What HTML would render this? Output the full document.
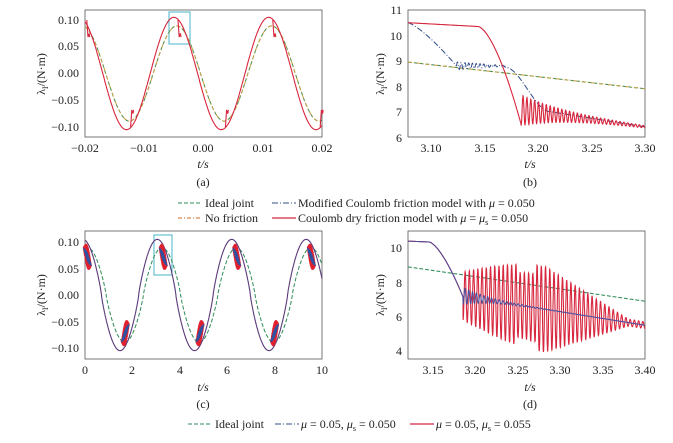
<!DOCTYPE html>
<html><head><meta charset="utf-8"><style>
body{margin:0;background:#fff;}
text{font-family:"Liberation Serif","DejaVu Serif",serif;fill:#222;}
</style></head><body>
<svg id="s" width="673" height="438" viewBox="0 0 673 438" xmlns="http://www.w3.org/2000/svg" font-family="Liberation Serif, serif">
<g font-size="12" style="font-family:'Liberation Serif',serif">
<!-- panel a -->
<rect x="85" y="10" width="237" height="127" fill="none" stroke="#555" stroke-width="0.8"/>
<text x="79" y="24" text-anchor="end">0.10</text><text x="79" y="50" text-anchor="end">0.05</text><text x="79" y="77" text-anchor="end">0.00</text><text x="79" y="104" text-anchor="end">−0.05</text><text x="79" y="131" text-anchor="end">−0.10</text>
<text x="85" y="152" text-anchor="middle">−0.02</text><text x="144" y="152" text-anchor="middle">−0.01</text><text x="203" y="152" text-anchor="middle">0.00</text><text x="263" y="152" text-anchor="middle">0.01</text><text x="322" y="152" text-anchor="middle">0.02</text>
<text x="203" y="168" text-anchor="middle" font-style="italic">t/s</text><text x="203" y="186" text-anchor="middle">(a)</text>
<text transform="translate(45,74) rotate(-90)" text-anchor="middle">λ<tspan font-size="8" dy="3">I</tspan><tspan dy="-3">/(N·m)</tspan></text>
<rect x="169" y="12" width="21" height="32" fill="none" stroke="#4ab5c8" stroke-width="1"/>
<!-- panel b -->
<rect x="408" y="10" width="237" height="127" fill="none" stroke="#555" stroke-width="0.8"/>
<text x="402" y="14" text-anchor="end">11</text><text x="402" y="40" text-anchor="end">10</text><text x="402" y="65" text-anchor="end">9</text><text x="402" y="91" text-anchor="end">8</text><text x="402" y="116" text-anchor="end">7</text><text x="402" y="142" text-anchor="end">6</text>
<text x="431" y="152" text-anchor="middle">3.10</text><text x="485" y="152" text-anchor="middle">3.15</text><text x="538" y="152" text-anchor="middle">3.20</text><text x="592" y="152" text-anchor="middle">3.25</text><text x="645" y="152" text-anchor="middle">3.30</text>
<text x="530" y="168" text-anchor="middle" font-style="italic">t/s</text><text x="530" y="186" text-anchor="middle">(b)</text>
<text transform="translate(384,74) rotate(-90)" text-anchor="middle">λ<tspan font-size="8" dy="3">I</tspan><tspan dy="-3">/(N·m)</tspan></text>
<!-- legend 1 -->
<line x1="178" y1="203" x2="202" y2="203" stroke="#2e8b57" stroke-dasharray="4,2"/><text x="205" y="207">Ideal joint</text>
<line x1="272" y1="203" x2="296" y2="203" stroke="#334d8a" stroke-dasharray="6,2,1,2"/><text x="298" y="207">Modified Coulomb friction model with <tspan font-style="italic">μ</tspan> = 0.050</text>
<line x1="178" y1="218" x2="202" y2="218" stroke="#d2691e" stroke-dasharray="4,2,1,2"/><text x="205" y="222">No friction</text>
<line x1="272" y1="218" x2="296" y2="218" stroke="#d7263d" stroke-width="1.2"/><text x="298" y="222">Coulomb dry friction model with <tspan font-style="italic">μ</tspan> = <tspan font-style="italic">μ</tspan><tspan font-size="8" dy="3">s</tspan><tspan dy="-3"> = 0.050</tspan></text>
<!-- panel c -->
<rect x="85" y="231" width="237" height="128" fill="none" stroke="#555" stroke-width="0.8"/>
<text x="79" y="246" text-anchor="end">0.10</text><text x="79" y="273" text-anchor="end">0.05</text><text x="79" y="299" text-anchor="end">0.00</text><text x="79" y="326" text-anchor="end">−0.05</text><text x="79" y="352" text-anchor="end">−0.10</text>
<text x="85" y="374" text-anchor="middle">0</text><text x="132" y="374" text-anchor="middle">2</text><text x="180" y="374" text-anchor="middle">4</text><text x="227" y="374" text-anchor="middle">6</text><text x="275" y="374" text-anchor="middle">8</text><text x="322" y="374" text-anchor="middle">10</text>
<text x="203" y="391" text-anchor="middle" font-style="italic">t/s</text><text x="203" y="408" text-anchor="middle">(c)</text>
<text transform="translate(45,295) rotate(-90)" text-anchor="middle">λ<tspan font-size="8" dy="3">I</tspan><tspan dy="-3">/(N·m)</tspan></text>
<rect x="154" y="235" width="18" height="40" fill="none" stroke="#4ab5c8" stroke-width="1"/>
<!-- panel d -->
<rect x="408" y="231" width="237" height="128" fill="none" stroke="#555" stroke-width="0.8"/>
<text x="402" y="252" text-anchor="end">10</text><text x="402" y="287" text-anchor="end">8</text><text x="402" y="321" text-anchor="end">6</text><text x="402" y="355" text-anchor="end">4</text>
<text x="433" y="374" text-anchor="middle">3.15</text><text x="475" y="374" text-anchor="middle">3.20</text><text x="518" y="374" text-anchor="middle">3.25</text><text x="560" y="374" text-anchor="middle">3.30</text><text x="603" y="374" text-anchor="middle">3.35</text><text x="645" y="374" text-anchor="middle">3.40</text>
<text x="530" y="391" text-anchor="middle" font-style="italic">t/s</text><text x="530" y="408" text-anchor="middle">(d)</text>
<text transform="translate(384,295) rotate(-90)" text-anchor="middle">λ<tspan font-size="8" dy="3">I</tspan><tspan dy="-3">/(N·m)</tspan></text>
<!-- legend 2 -->
<line x1="188" y1="424" x2="212" y2="424" stroke="#2e8b57" stroke-dasharray="4,2"/><text x="215" y="428">Ideal joint</text>
<line x1="275" y1="424" x2="299" y2="424" stroke="#334d8a" stroke-dasharray="6,2,1,2"/><text x="301" y="428"><tspan font-style="italic">μ</tspan> = 0.05, <tspan font-style="italic">μ</tspan><tspan font-size="8" dy="3">s</tspan><tspan dy="-3"> = 0.050</tspan></text>
<line x1="410" y1="424" x2="434" y2="424" stroke="#d7263d" stroke-width="1.2"/><text x="436" y="428"><tspan font-style="italic">μ</tspan> = 0.05, <tspan font-style="italic">μ</tspan><tspan font-size="8" dy="3">s</tspan><tspan dy="-3"> = 0.055</tspan></text>
</g>
<g id="plots"></g>
</svg>
<script>
var G=document.getElementById('plots');
function path(pts,st){var d='';pts.forEach(function(p,i){d+=(i?'L':'M')+p[0].toFixed(1)+' '+p[1].toFixed(1)});
var e=document.createElementNS('http://www.w3.org/2000/svg','path');e.setAttribute('d',d);e.setAttribute('fill','none');
for(var k in st)e.setAttribute(k,st[k]);G.appendChild(e);}
function mk(x0,x1,X0,X1,y0,y1,Y0,Y1){return function(t,v){return [X0+(t-x0)/(x1-x0)*(X1-X0),Y0+(v-y0)/(y1-y0)*(Y1-Y0)]}}
var GR={stroke:'#2e8b57','stroke-dasharray':'4,2','stroke-width':1};
var OR={stroke:'#c8a040','stroke-dasharray':'4,2,1,2','stroke-width':1};
var BL={stroke:'#334d8a','stroke-dasharray':'6,2,1,2','stroke-width':1};
var RD={stroke:'#d7263d','stroke-width':1.1};
var PU={stroke:'#5a3a7a','stroke-width':1.1};
// panel a
var A=mk(-0.02,0.02,85,322,0.1,-0.1,20,127);
var P=0.016,a=[],r=[];
for(var i=0;i<=800;i++){var t=-0.02+0.04*i/800;
a.push(A(t,0.089*Math.sin(2*Math.PI*(t+0.0085)/P)));
r.push(A(t,0.105*Math.sin(2*Math.PI*(t+0.009)/P)));}
path(a,GR);path(a,OR);path(r,RD);
[-0.0043,0.0117,-0.0197,-0.0123,0.0037,0.0197].forEach(function(t,k){
var s=(k<3)?1:-1;var p1=A(t,s*0.1),p2=A(t+0.0002,s*0.068);
path([p1,p2,A(t+0.0004,s*0.075),A(t+0.0005,s*0.068)],RD);});
// panel b
var B=mk(3.08,3.30,408,645,11,6,10,137);
var g=[],bl=[],rd=[];
for(var i=0;i<=1500;i++){var t=3.08+0.22*i/1500;
g.push(B(t,8.95-1.05*(t-3.08)/0.22));
var v;
if(t<3.125){v=10.5-1.7*Math.pow((t-3.08)/0.045,1.3);}
else if(t<3.17){v=8.8+0.15*Math.sin((t-3.125)*2*Math.PI/0.0035)*(1-(t-3.125)/0.05);}
else if(t<3.212){var u=(t-3.17)/0.042;v=8.75-1.75*u*u*(3-2*u);}
else v=7.0-0.6*(t-3.212)/0.088;
bl.push(B(t,v));
var w;var base=7.05-0.65*(t-3.185)/0.115;
if(t<3.145)w=10.5-0.15*(t-3.08)/0.065;
else if(t<3.185){var u=(t-3.145)/0.04;w=10.35-3.85*Math.pow(u,1.6);}
else{var env=0.6*Math.exp(-(t-3.185)/0.045);w=base+env*Math.cos((t-3.185)*2*Math.PI/0.0036+Math.PI);}
rd.push(B(t,w));}
path(g,GR);path(g,OR);path(bl,BL);path(rd,RD);
// panel c
var C=mk(0,10,85,322,0.1,-0.1,242,348);
var gc=[],pc=[];
function sh(x){var s=Math.cos(x);return Math.sign(s)*Math.pow(Math.abs(s),0.85);}
for(var i=0;i<=1000;i++){var t=10*i/1000;
gc.push(C(t,0.089*sh(2*(t-3.25))));pc.push(C(t,0.105*sh(2*(t-3.05))));}
path(gc,GR);path(pc,PU);
[0.1,1.7,3.3,4.85,6.4,8.0,9.55].forEach(function(tc,k){var s=(k%2==0)?1:-1;var c=s*0.072;
var pr=[],pb=[];for(var j=0;j<=40;j++){var t=tc-0.17+0.34*j/40;var e=Math.sin(Math.PI*j/40);
pr.push(C(t,c-s*0.1*(t-tc)+((j%2)?1:-1)*0.022*e));pb.push(C(t,c-s*0.1*(t-tc)+((j%2)?1:-1)*0.008*e));}
path(pr,{stroke:'#e0202f','stroke-width':1.2});path(pb,{stroke:'#3050a0','stroke-width':0.9});});
// panel d
var D=mk(3.12,3.40,408,645,10,4,248,351);
var gd=[],pd=[],rdd=[];
for(var i=0;i<=2000;i++){var t=3.12+0.28*i/2000;
gd.push(D(t,8.9-2.0*(t-3.12)/0.28));
var base=7.2-1.7*(t-3.185)/0.215,v,w;
if(t<3.145){v=10.4-0.05*(t-3.12)/0.025;w=v;}
else if(t<3.185){var u=(t-3.145)/0.04;v=10.35-3.2*Math.pow(u,1.5);w=v;}
else{v=base+0.5*Math.exp(-(t-3.185)/0.03)*Math.cos((t-3.185)*2*Math.PI/0.0045+Math.PI);
var x=(t-3.185)/0.215,env=x<0.45?1.4+1.1*Math.sin(Math.PI*x/0.9):2.5*Math.max(0.08,1-(x-0.45)/0.5);
if(x>0.3&&x<0.4)env*=0.8;
w=base+env*Math.cos((t-3.185)*2*Math.PI/0.005+Math.PI);}
pd.push(D(t,v));rdd.push(D(t,w));}
path(gd,GR);path(rdd,RD);path(pd,{stroke:'#4a4a9a','stroke-width':1});
</script>
</body></html>
